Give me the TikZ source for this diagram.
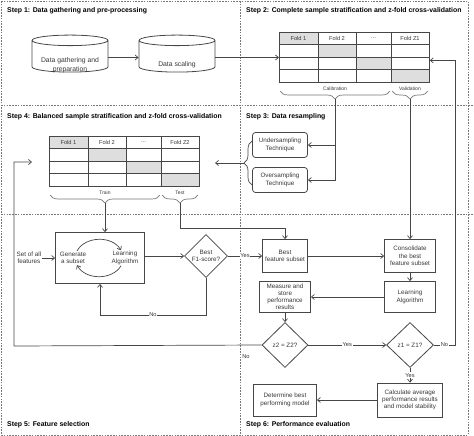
\documentclass[tikz,border=0pt]{standalone}
\usepackage{fontspec}
\setmainfont{Liberation Sans}
\usepackage{tikz}
\usetikzlibrary{positioning,arrows.meta,shapes.geometric,decorations.pathreplacing}
\definecolor{dgray}{RGB}{70,70,70}
\definecolor{tgray}{RGB}{55,55,55}
\definecolor{fgray}{RGB}{120,120,120}
\definecolor{cgray}{RGB}{222,222,222}
\tikzset{
  stp/.style={anchor=west, inner sep=0pt, font=\fontsize{6.9}{8}\selectfont\bfseries},
  bx/.style={draw=dgray, line width=0.8pt, align=center, inner sep=1pt, text=tgray, font=\fontsize{6.3}{7.3}\selectfont},
  rbx/.style={bx, rounded corners=3pt},
  dia/.style={diamond, draw=dgray, line width=0.8pt, align=center, inner sep=0pt, text=tgray, font=\fontsize{6.3}{7.3}\selectfont},
  cyl/.style={cylinder, shape border rotate=90, aspect=0.2, draw=dgray, line width=0.8pt, minimum width=76pt, minimum height=37pt},
  txt/.style={align=center, inner sep=1pt, text=tgray, font=\fontsize{6.3}{7.3}\selectfont},
  cell/.style={inner sep=0pt, text=tgray, font=\fontsize{5.7}{6.5}\selectfont},
  lbl/.style={fill=white, inner sep=0.8pt, text=tgray, font=\fontsize{5.7}{6.5}\selectfont},
  tl/.style={draw=dgray, line width=0.8pt},
  brc/.style={decorate, decoration={brace, amplitude=8pt}, draw=fgray, line width=0.7pt},
  arr/.style={-{Straight Barb[length=3pt,width=5pt]}, draw=dgray, line width=0.7pt},
  frm/.style={draw=fgray, line width=0.8pt, dash pattern=on 1.6pt off 1.2pt}
}
\begin{document}
\begin{tikzpicture}[x=1pt, y=-1pt]
  \useasboundingbox (0,0) rectangle (474,436);
  % panels
  \draw[frm] (1,1) rectangle (468,435);
  \draw[frm] (1,105) -- (473,105);
  \draw[frm] (1,214) -- (473,214);
  \draw[frm] (240,1) -- (240,435);
  \node[stp] (s1) at (7,11) {Step 1: Data gathering and pre-processing};
  \node[stp] (s2) at (246,11) {Step 2: Complete sample stratification and z-fold cross-validation};
  \node[stp] (s4) at (7,117) {Step 4: Balanced sample stratification and z-fold cross-validation};
  \node[stp] (s3) at (246,117) {Step 3: Data resampling};
  \node[stp] (s5) at (7,425) {Step 5: Feature selection};
  \node[stp] (s6) at (246,425) {Step 6: Performance evaluation};

  % step 1
  \node[cyl] (cylA) at (70,57.5) {\rule{46pt}{0pt}};
  \node[cyl] (cylB) at (177,57.5) {\rule{46pt}{0pt}};
  \node[txt, font=\fontsize{6.8}{8.5}\selectfont] (cylAt) at (70,65) {Data gathering and\\preparation};
  \node[txt, font=\fontsize{6.8}{8.5}\selectfont] (cylBt) at (177,65) {Data scaling};

  % fold tables
  \foreach \t/\ox/\oy/\zl/\la/\lb in {tabA/279/32/Z1/Calibration/Validation, tabB/49/136/Z2/Train/Test}{
    \fill[cgray] (\ox,\oy) rectangle ++(39,12.5);
    \fill[cgray] (\ox+39,\oy+12.5) rectangle ++(38,12.5);
    \fill[cgray] (\ox+77,\oy+25) rectangle ++(35,12.5);
    \fill[cgray] (\ox+112,\oy+37.5) rectangle ++(38,12.5);
    \node[tl, anchor=north west, inner sep=0pt, minimum width=150pt, minimum height=50pt] (\t) at (\ox,\oy) {};
    \foreach \c in {39,77,112}
      \draw[tl] (\ox+\c,\oy) -- ++(0,50);
    \foreach \r in {12.5,25,37.5}
      \draw[tl] (\ox,\oy+\r) -- ++(150,0);
    \node[cell] (\t-h1) at (\ox+19.5,\oy+6.25) {Fold 1};
    \node[cell] (\t-h2) at (\ox+58,\oy+6.25) {Fold 2};
    \node[cell] (\t-h3) at (\ox+94.5,\oy+6.25) {...};
    \node[cell] (\t-h4) at (\ox+131,\oy+6.25) {Fold \zl};
    \draw[brc] (\ox+111,\oy+59) -- (\ox+1,\oy+59);
    \draw[brc] (\ox+149,\oy+59) -- (\ox+113,\oy+59);
    \node[cell, font=\fontsize{5}{6}\selectfont] (\t-la) at (\ox+56,\oy+57) {\la};
    \node[cell, font=\fontsize{5}{6}\selectfont] (\t-lb) at (\ox+131,\oy+57) {\lb};
    \coordinate (\t-c) at (\ox+56,\oy+67);
    \coordinate (\t-v) at (\ox+131,\oy+67);
  }

  % step 3
  \node[rbx, minimum width=55pt, minimum height=25pt] (under) at (280,145) {Undersampling\\Technique};
  \node[rbx, minimum width=55pt, minimum height=25pt] (over) at (280,180) {Oversampling\\Technique};
  \draw[brc, draw=dgray] (252,185) -- (252,141);
  \coordinate (rs) at (244,163);
  \coordinate (rsend) at (215,163);

  % step 5
  \node[txt] (sets) at (29,258) {Set of all\\features};
  \node[bx, minimum width=89pt, minimum height=51pt] (fsbox) at (100,258) {};
  \node[txt] (gen) at (73,258) {Generate\\a subset};
  \node[txt] (learn) at (125,258) {Learning\\Algorithm};
  \node[dia, minimum width=43pt, minimum height=43pt] (f1) at (206,256) {Best\\F1-score?};
  \coordinate (f1no) at (206,315);

  % step 6
  \node[bx, minimum width=45pt, minimum height=33pt] (best) at (285,256) {Best\\feature subset};
  \node[bx, minimum width=51pt, minimum height=33pt] (consol) at (410,256) {Consolidate\\the best\\feature subset};
  \node[bx, minimum width=51pt, minimum height=31pt] (learn2) at (410,297) {Learning\\Algorithm};
  \node[bx, minimum width=51pt, minimum height=31pt, font=\fontsize{6.3}{7}\selectfont] (meas) at (285,297) {Measure and\\store\\performance\\results};
  \node[dia, minimum width=46pt, minimum height=45pt] (z2) at (285,345) {z2 = Z2?};
  \node[dia, minimum width=47pt, minimum height=45pt] (z1) at (410,345) {z1 = Z1?};
  \node[bx, minimum width=65pt, minimum height=34pt] (calc) at (410,400) {Calculate average\\performance results\\and model stability};
  \node[bx, minimum width=63pt, minimum height=32pt] (detm) at (285,400) {Determine best\\performing model};
  \coordinate (z1r) at (455,345);
  \coordinate (z2l) at (14,346);
  \coordinate (z2end) at (32,162);
  \coordinate (tvb) at (180,228);

  % connectors
  \draw[arr] (cylA.east) -- (cylB.west);
  \draw[arr] (cylB.east) -- (cylB.east -| tabA.west);
  \draw[arr] (tabA-c) |- (under.east);
  \draw[arr] (tabA-c) |- (over.east);
  \draw[arr] (tabA-v) -- (tabA-v |- consol.north);
  \draw[arr] (rs) -- (rsend);
  \draw[arr] (tabB-c) -- (tabB-c |- fsbox.north);
  \draw[arr] (tabB-v) -- (tvb) -| (best.north);
  \draw[arr] (sets.east) -- (fsbox.west);
  \draw[arr] ([xshift=4pt]gen.north) to[bend left=60] ([xshift=-4pt]learn.north);
  \draw[arr] ([xshift=-4pt]learn.south) to[bend left=60] ([xshift=4pt]gen.south);
  \draw[arr] (fsbox.east |- f1.west) -- (f1.west);
  \draw[arr] (f1.east) -- node[lbl] {Yes} (best.west);
  \draw[arr] (f1.south) -- (f1no) -| node[lbl, pos=0.25] {No} (fsbox.south);
  \draw[arr] (best) -- (consol);
  \draw[arr] (consol) -- (learn2);
  \draw[arr] (learn2) -- (meas);
  \draw[arr] (meas) -- (z2);
  \draw[arr] (z2) -- node[lbl] {Yes} (z1);
  \draw[arr] (z1) -- node[lbl] {Yes} (calc);
  \draw[arr] (calc) -- (detm);
  \draw[arr] (z1.east) -- node[lbl] {No} (z1r) |- ([yshift=-3pt]tabA.east);
  \draw[arr] (z2.west) -- (z2l) |- (z2end);
  \node[lbl] (z2no) at (246,357) {No};
\end{tikzpicture}
\end{document}
